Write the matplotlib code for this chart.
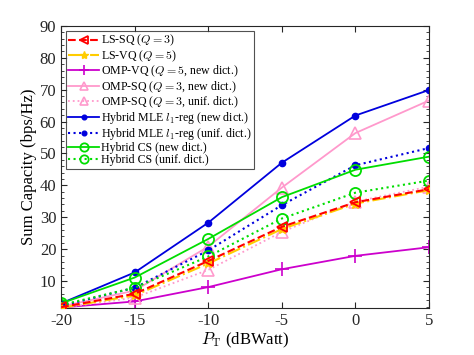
import matplotlib
matplotlib.use("Agg")
import matplotlib.pyplot as plt
from matplotlib.ticker import MultipleLocator

plt.rcParams['font.family'] = ['Liberation Serif', 'DejaVu Serif']
plt.rcParams['mathtext.fontset'] = 'cm'

pt = [-20, -15, -10, -5, 0, 5]
ls_sq = [1.8, 6.0, 16.3, 27.0, 34.7, 38.8]
ls_vq = [1.6, 5.5, 15.5, 26.3, 34.3, 38.5]
omp_vq = [1.7, 3.6, 8.1, 13.7, 17.9, 20.6]
omp_sq_new = [2.0, 7.0, 20.8, 39.3, 56.4, 66.6]
omp_sq_unif = [1.6, 4.8, 13.5, 25.4, 34.9, 39.6]
mle_new = [3.0, 12.7, 28.3, 47.1, 61.9, 69.9]
mle_unif = [2.2, 7.9, 19.6, 33.8, 46.3, 51.7]
cs_new = [3.0, 11.1, 23.2, 36.3, 44.9, 49.0]
cs_unif = [2.5, 7.9, 17.7, 29.6, 37.7, 41.5]

labels = [
    r'LS-SQ ($Q=3$)',
    r'LS-VQ ($Q=5$)',
    r'OMP-VQ ($Q=5$, new dict.)',
    r'OMP-SQ ($Q=3$, new dict.)',
    r'OMP-SQ ($Q=3$, unif. dict.)',
    r'Hybrid MLE $l_1$-reg (new dict.)',
    r'Hybrid MLE $l_1$-reg (unif. dict.)',
    r'Hybrid CS (new dict.)',
    r'Hybrid CS (unif. dict.)',
]

fig = plt.figure(figsize=(4.74, 3.55), dpi=100)
ax = fig.add_axes([0.129, 0.132, 0.776, 0.795])

red = '#FF0000'; yel = '#FFCC00'; mag = '#CC00CC'; pink = '#FF99CC'
blue = '#0000DD'; green = '#00DD00'

ax.plot(pt, ls_sq, color=red, ls='--', lw=1.5, marker='<', mfc='none', ms=7, mew=1.3, label=labels[0], zorder=5)
ax.plot(pt, ls_vq, color=yel, ls='-.', lw=1.5, marker='*', mfc=yel, ms=8, label=labels[1], zorder=4)
ax.plot(pt, omp_vq, color=mag, ls='-', lw=1.3, marker='+', ms=10, mew=1.2, label=labels[2])
ax.plot(pt, omp_sq_new, color=pink, ls='-', lw=1.3, marker='^', mfc='none', ms=8, mew=1.2, label=labels[3])
ax.plot(pt, omp_sq_unif, color=pink, ls=':', lw=1.3, marker='^', mfc='none', ms=8, mew=1.2, label=labels[4])
ax.plot(pt, mle_new, color=blue, ls='-', lw=1.3, marker='o', mfc=blue, ms=4.5, label=labels[5])
ax.plot(pt, mle_unif, color=blue, ls=':', lw=1.5, marker='o', mfc=blue, ms=4.5, label=labels[6])
ax.plot(pt, cs_new, color=green, ls='-', lw=1.3, marker='o', mfc='none', ms=8, mew=1.3, label=labels[7])
ax.plot(pt, cs_unif, color=green, ls=':', lw=1.5, marker='o', mfc='none', ms=8, mew=1.3, label=labels[8])

ax.set_xlim(-20, 5)
ax.set_ylim(1.5, 90)
ax.set_xticks(pt)
ax.set_xticklabels([str(v) for v in pt])
ax.set_yticks([10, 20, 30, 40, 50, 60, 70, 80, 90])
ax.yaxis.set_minor_locator(MultipleLocator(2))
ax.tick_params(direction='in', which='both', top=True, right=True, labelsize=12, colors='#262626')
ax.tick_params(which='major', length=4)
ax.tick_params(which='minor', length=2)
for s in ax.spines.values():
    s.set_color('#262626'); s.set_linewidth(0.8)

ax.set_xlabel(r'$P_{\mathrm{T}}$ (dBWatt)', fontsize=12, labelpad=1)
ax.set_ylabel('Sum Capacity (bps/Hz)', fontsize=12, labelpad=2)

leg = ax.legend(loc='upper left', fontsize=8.6, frameon=True, fancybox=False,
                edgecolor='#262626', labelspacing=0.0, handlelength=2.6,
                handletextpad=0.15, borderpad=0.2, borderaxespad=0.4,
                markerscale=0.75)
leg.get_frame().set_linewidth(0.8)

fig.savefig('out.png', dpi=100)
